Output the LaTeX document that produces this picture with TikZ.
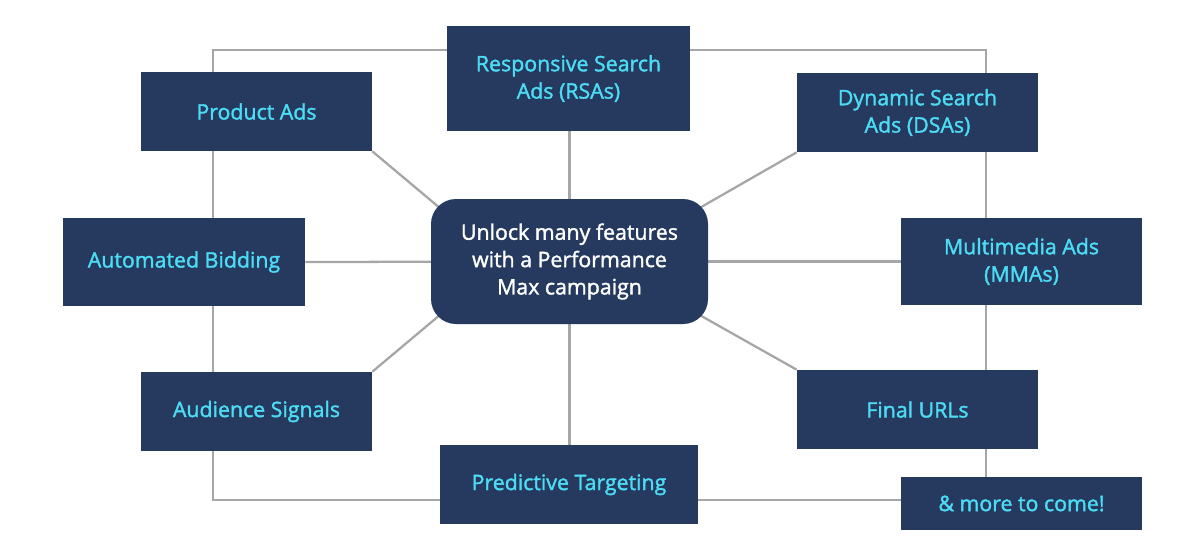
\documentclass[tikz,border=0pt]{standalone}
\usepackage{fontspec}
\setmainfont{Open Sans}
\newfontfamily\sbfont[FakeBold=1.6]{Open Sans}
\usetikzlibrary{backgrounds}
\definecolor{navy}{HTML}{253A5E}
\definecolor{cyantext}{HTML}{4DDCF5}
\definecolor{linegray}{HTML}{A6A6A6}
\begin{document}
\begin{tikzpicture}[x=0.75pt,y=-0.75pt,
  box/.style={fill=navy, draw=none, inner sep=0pt, align=center, text=cyantext,
    font=\sbfont\fontsize{16}{20.5}\selectfont},
  hub/.style={box, text=white, rounded corners=18.75pt},
  link/.style={draw=linegray, line width=1.7pt}]
\useasboundingbox (0,0) rectangle (1200,550);
\node[box, minimum width=173.25pt, minimum height=59.25pt] (pa) at (256.5,111.5) {Product Ads};
\node[box, minimum width=182.25pt, minimum height=78.75pt] (rsa) at (568.5,78.5) {Responsive Search\\Ads (RSAs)};
\node[box, minimum width=180.75pt, minimum height=59.25pt] (dsa) at (917.5,112.5) {Dynamic Search\\Ads (DSAs)};
\node[box, minimum width=181.5pt, minimum height=66pt] (ab) at (184,262) {Automated Bidding};
\node[hub, minimum width=207.75pt, minimum height=93.75pt] (c) at (569.5,261.5) {Unlock many features\\with a Performance\\Max campaign};
\node[box, minimum width=180.75pt, minimum height=65.25pt] (mma) at (1021.5,261.5) {Multimedia Ads\\(MMAs)};
\node[box, minimum width=173.25pt, minimum height=59.25pt] (as) at (256.5,411.5) {Audience Signals};
\node[box, minimum width=180.75pt, minimum height=59.25pt] (fu) at (917.5,409.5) {Final URLs};
\node[box, minimum width=193.5pt, minimum height=59.25pt] (pt) at (569,484.5) {Predictive Targeting};
\node[box, minimum width=180.75pt, minimum height=39.75pt] (more) at (1021.5,503.5) {\& more to come!};
\coordinate (tl) at (213,50);
\coordinate (tr) at (986,50);
\coordinate (bl) at (213,500);
\begin{scope}[on background layer]
  % outer frame
  \draw[link] (pa.north -| tl) -- (tl) -- (rsa.west |- tl);
  \draw[link] (rsa.east |- tr) -- (tr) -- (dsa.north -| tr);
  \draw[link] (pa.south -| tl) -- (ab.north -| tl);
  \draw[link] (ab.south -| tl) -- (as.north -| tl);
  \draw[link] (as.south -| bl) -- (bl) -- (pt.west |- bl);
  \draw[link] (pt.east |- bl) -- (more.west |- bl);
  \draw[link] (dsa.south -| tr) -- (mma.north -| tr);
  \draw[link] (mma.south -| tr) -- (fu.north -| tr);
  \draw[link] (fu.south -| tr) -- (more.north -| tr);
  % spokes
  \draw[link] (rsa.south -| c.center) -- (c.center);
  \draw[link] (pt.north -| c.center) -- (c.center);
  \draw[link] (ab.east) -- (c.center);
  \draw[link] (mma.west) -- (c.center);
  \draw[link] (pa.south east) -- ([shift={(10,10)}]c.north west);
  \draw[link] (dsa.south west) -- ([shift={(-10,10)}]c.north east);
  \draw[link] (as.north east) -- ([shift={(10,-10)}]c.south west);
  \draw[link] (fu.north west) -- ([shift={(-10,-10)}]c.south east);
\end{scope}
\end{tikzpicture}
\end{document}
